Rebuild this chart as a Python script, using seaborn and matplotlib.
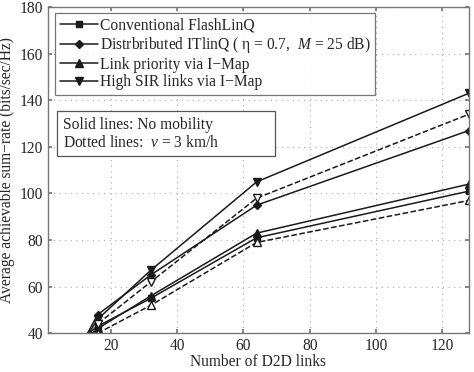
import matplotlib
matplotlib.use("Agg")
import matplotlib.pyplot as plt
import seaborn as sns
import pandas as pd
from matplotlib.lines import Line2D
from matplotlib.patches import Rectangle

links = [8, 16, 32, 64, 128]
flashlinq = [34, 43, 55, 81, 101]
itlinq = [27, 48, 65, 95, 127]
link_priority = [33, 42, 56, 83, 104]
high_sir = [28, 46, 67, 105, 143]
link_priority_mob = [32, 40, 52, 79, 97]
high_sir_mob = [27, 44, 62, 98, 134]

labels = ["Conventional FlashLinQ",
          "Distrbributed ITlinQ ( \u03b7 = 0.7,  $M$ = 25 dB)",
          "Link priority via I\u2212Map",
          "High SIR links via I\u2212Map"]

sns.set_theme(style="white")
plt.rcParams['font.family'] = ['Liberation Serif', 'DejaVu Serif']
plt.rcParams['mathtext.fontset'] = 'custom'
plt.rcParams['mathtext.rm'] = 'Liberation Serif'
plt.rcParams['mathtext.it'] = 'Liberation Serif:italic'

FS = 11.2

fig = plt.figure(figsize=(4.74, 3.72), dpi=100)
ax = fig.add_axes([0.101, 0.104, 0.888, 0.877])

series = [
    (flashlinq, 's', '-', 'k', 4.5),
    (itlinq, 'D', '-', 'k', 4.5),
    (link_priority, '^', '-', 'k', 5.5),
    (high_sir, 'v', '-', 'k', 5.5),
    (link_priority_mob, '^', '--', 'white', 5.5),
    (high_sir_mob, 'v', '--', 'white', 5.5),
]
for vals, m, ls, fc, ms in series:
    df = pd.DataFrame({"x": links, "y": vals})
    sns.lineplot(data=df, x="x", y="y", ax=ax, color='k', linestyle=ls,
                 marker=m, markersize=ms, markerfacecolor=fc,
                 markeredgecolor='k', markeredgewidth=1.0, linewidth=1.1,
                 clip_on=True)

ax.set_xlim(1, 128)
ax.set_ylim(40, 180)
ax.set_xticks([20, 40, 60, 80, 100, 120])
ax.set_yticks(range(40, 181, 20))
ax.grid(True, linestyle=(0, (1, 4)), color='#aaaaaa', linewidth=0.8)
for s in ax.spines.values():
    s.set_color('#777777')
    s.set_linewidth(1.0)
ax.tick_params(direction='in', length=3, color='#777777', labelsize=FS,
               pad=3.5, bottom=True, left=True, top=True, right=True)
ax.set_xlabel("Number of D2D links", fontsize=FS, labelpad=0)
ax.set_ylabel("Average achievable sum\u2212rate (bits/sec/Hz)", fontsize=FS, labelpad=3)

handles = []
for (vals, m, ls, fc, ms) in series[:4]:
    handles.append(Line2D([], [], color='k', marker=m, markersize=ms,
                          markerfacecolor='k', linewidth=1.1))
leg = ax.legend(handles, labels, loc='upper left', bbox_to_anchor=(0.017, 0.982),
                fontsize=FS, frameon=True, fancybox=False, handlelength=2.45,
                handletextpad=0.15, borderpad=0.3, labelspacing=0.1,
                borderaxespad=0.0)
leg.get_frame().set_edgecolor('#555555')
leg.get_frame().set_linewidth(0.9)

ax.add_patch(Rectangle((0.021, 0.542), 0.518, 0.140, transform=ax.transAxes,
                       facecolor='white', edgecolor='#555555', linewidth=0.9,
                       zorder=4))
ax.text(0.036, 0.612, "Solid lines: No mobility\nDotted lines:  $v$ = 3 km/h",
        transform=ax.transAxes, fontsize=FS, va='center', ha='left',
        linespacing=1.15, zorder=5)

fig.savefig("out.png", dpi=100)
